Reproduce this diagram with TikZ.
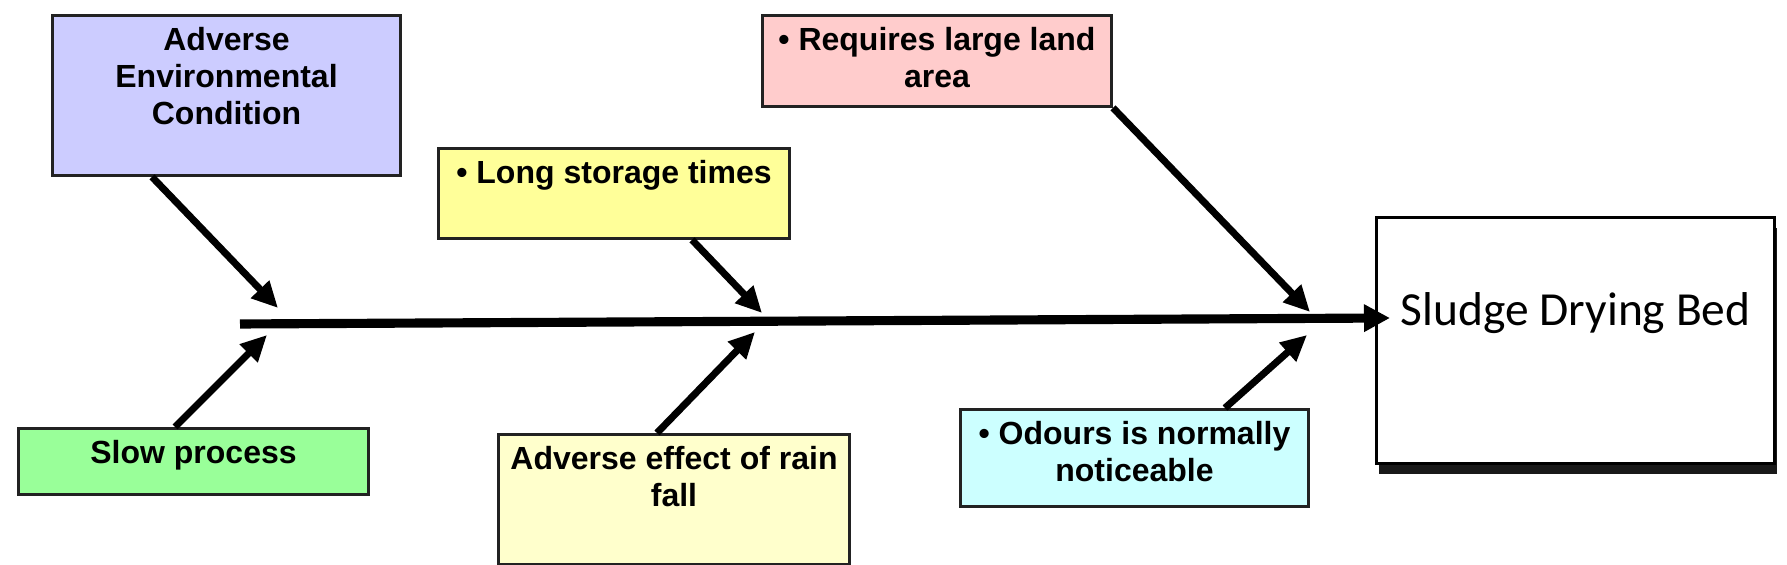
\documentclass[tikz,border=0pt]{standalone}
\usepackage{fontspec}
\setmainfont{Liberation Sans}
\newfontfamily\effectfont{Carlito}
\usepackage{xcolor}
\definecolor{clEnv}{HTML}{CCCCFF}
\definecolor{clStore}{HTML}{FFFF99}
\definecolor{clLand}{HTML}{FFCCCC}
\definecolor{clSlow}{HTML}{99FF99}
\definecolor{clRain}{HTML}{FFFFCC}
\definecolor{clOdour}{HTML}{CCFFFF}
\definecolor{clEdge}{HTML}{222222}
\usepackage{tikz}
\usetikzlibrary{arrows.meta,calc,shadows}
\tikzset{
  cause/.style={rectangle, draw=clEdge, line width=0.8pt, inner sep=0pt, anchor=north west},
  tag/.style={anchor=north, align=center, inner sep=0pt, yshift=-0.13cm,
              font=\fontsize{9.1pt}{10.5pt}\selectfont\bfseries},
  effect/.style={rectangle, draw=black, line width=0.9pt, fill=white, inner sep=0pt,
                 anchor=north west,
                 drop shadow={shadow xshift=0.02cm, shadow yshift=-0.1cm, fill=black, opacity=0.9}},
  bone/.style={-{Triangle[length=0.26cm,width=0.24cm]}, line width=2pt, draw=black},
  spine/.style={-{Triangle[length=0.26cm,width=0.26cm]}, line width=2.6pt, draw=black},
}

\begin{document}
\begin{tikzpicture}[x=0.01cm, y=-0.01cm]
  \useasboundingbox (0,0) rectangle (1787,565);

  % cause boxes
  \node[cause, fill=clEnv, minimum width=3.48cm, minimum height=1.60cm,
        label={[tag]north:{Adverse\\Environmental\\Condition}}] (env) at (51,14) {};
  \node[cause, fill=clStore, minimum width=3.51cm, minimum height=0.90cm,
        label={[tag]north:{• Long storage times}}] (store) at (437,147) {};
  \node[cause, fill=clLand, minimum width=3.49cm, minimum height=0.91cm,
        label={[tag]north:{• Requires large land\\area}}] (land) at (761,14) {};
  \node[cause, fill=clSlow, minimum width=3.50cm, minimum height=0.66cm,
        label={[tag]north:{Slow process}}] (slow) at (17,427) {};
  \node[cause, fill=clRain, minimum width=3.51cm, minimum height=1.30cm,
        label={[tag]north:{Adverse effect of rain\\fall}}] (rain) at (497,433) {};
  \node[cause, fill=clOdour, minimum width=3.48cm, minimum height=0.97cm,
        label={[tag]north:{• Odours is normally\\noticeable}}] (odour) at (959,408) {};

  % effect
  \node[effect, minimum width=3.98cm, minimum height=2.46cm,
        label={[anchor=base, inner sep=0pt, yshift=-1.09cm,
                font=\effectfont\fontsize{13.5pt}{16pt}\selectfont]north:Sludge Drying Bed}]
        (bed) at (1375,216) {};

  % spine and bones
  \coordinate (spL) at (240,324);
  \coordinate (spR) at (1390,318);
  \coordinate (tEnv) at (278,308);
  \coordinate (tSlow) at (267,335);
  \coordinate (tStore) at (762,313);
  \coordinate (tRain) at (755,332);
  \coordinate (tLand) at (1310,312);
  \coordinate (tOdour) at (1307,335);

  \draw[spine] (spL) -- (spR);
  \draw[bone] ($(env.south west)+(101,0)$) -- (tEnv);
  \draw[bone] ($(slow.north west)+(158,0)$) -- (tSlow);
  \draw[bone] ($(store.south west)+(255,0)$) -- (tStore);
  \draw[bone] ($(rain.north west)+(160,0)$) -- (tRain);
  \draw[bone] (land.south east) -- (tLand);
  \draw[bone] ($(odour.north west)+(266,0)$) -- (tOdour);
\end{tikzpicture}
\end{document}
